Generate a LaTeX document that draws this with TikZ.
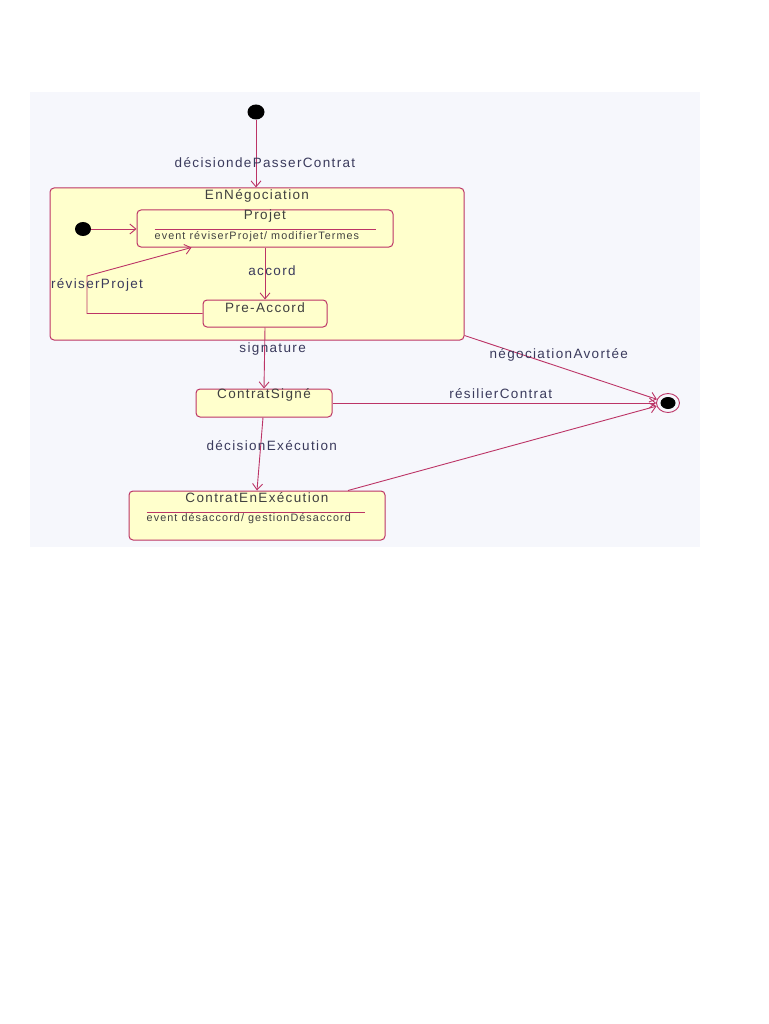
\documentclass[tikz,border=0pt]{standalone}
\usepackage{fontspec}
\setmainfont{Liberation Sans}[LetterSpace=10]
\usepackage{tikz}
\usetikzlibrary{calc,arrows.meta,shapes.geometric}

\definecolor{trait}{HTML}{BC3466}
\definecolor{fond}{HTML}{F6F7FC}
\definecolor{jaune}{HTML}{FFFFCC}
\definecolor{texte}{HTML}{3A3A5C}

\tikzset{
  etatbox/.style={draw=trait, fill=jaune, rounded corners=4pt, line width=1pt, inner sep=0pt},
  debut/.style={ellipse, fill=black, inner sep=0pt, minimum width=17pt, minimum height=15pt},
  trans/.style={draw=trait, line width=0.9pt, -{Straight Barb[length=6pt,width=10pt]}},
  nom/.style={text=black!75, font=\fontsize{13.5}{15}\selectfont, inner sep=0pt},
  evt/.style={text=black!75, font=\fontsize{10.8}{12}\selectfont, inner sep=0pt},
  lbl/.style={text=texte, font=\fontsize{13.5}{15}\selectfont, inner sep=0pt}
}

\begin{document}
\begin{tikzpicture}[x=1pt, y=-1pt]
\pgfmathsetmacro{\w}{256} % largeur Projet / ContratEnExecution
\pgfmathsetmacro{\d}{18} % retrait des lignes de separation
\useasboundingbox (0,0) rectangle (768,1024);
\fill[fond] (30,92) rectangle (700,547);

% etat composite
\node[etatbox, minimum width=414pt, minimum height=152pt] (neg) at (257,264) {};
\node[nom] (negnom) at (257,196) {EnNégociation};
\node[debut] (debut) at (256,112) {};
\node[debut, minimum width=16pt, minimum height=14pt] (debut2) at (83,229) {};

\node[etatbox, minimum width=\w pt, minimum height=37pt] (projet) at (265,228.5) {};
\node[nom] (projetnom) at (265,216) {Projet};
\draw[trait, line width=0.8pt] ($(projet.west)+(\d,0.5)$) -- ($(projet.east)+(-\d,0.5)$);
\node[evt, anchor=west] (projetevt) at ($(projet.west)+(\d,8.5)$) {event réviserProjet/ modifierTermes};

\node[etatbox, minimum width=124pt, minimum height=27pt] (preaccord) at (265,313.5) {};
\node[nom] (preaccordnom) at (265,308) {Pre-Accord};

% etats du contrat
\node[etatbox, minimum width=136pt, minimum height=28pt] (signe) at (264,403) {};
\node[nom] (signenom) at (264,395) {ContratSigné};

\node[etatbox, minimum width=\w pt, minimum height=49pt] (exec) at (257,515.5) {};
\node[nom] (execnom) at (257,498) {ContratEnExécution};
\draw[trait, line width=0.8pt] ($(exec.west)+(\d,-3.5)$) -- ($(exec.east)+(-\d-3,-3.5)$);
\node[evt, anchor=west] (execevt) at ($(exec.west)+(\d,3.5)$) {event désaccord/ gestionDésaccord};

\node[ellipse, draw=trait, line width=0.9pt, minimum width=23pt, minimum height=19pt, inner sep=0pt] (fin) at (668,403) {};
\node[ellipse, fill=black, minimum width=15pt, minimum height=12pt, inner sep=0pt] (finpt) at (fin) {};

% transitions
\draw[trans] (debut) -- node[lbl, pos=.64, xshift=9pt]{décisiondePasserContrat} (debut |- neg.north);
\draw[trans] (debut2) -- (debut2 -| projet.west);
\draw[trans] (projet.south) -- node[lbl, pos=.45, xshift=7pt]{accord} (preaccord.north);
\draw[trans] (preaccord.west) -| (87,276) node[lbl, xshift=10pt, yshift=-9pt]{réviserProjet} -- ($(projet.south west)+(55,0)$);
\draw[trans] (preaccord.south) -- node[lbl, pos=.35, xshift=8pt]{signature} (signe.north);
\draw[trans] ($(neg.south east)+(0,-5)$) -- node[lbl, pos=.49, yshift=12pt]{négociationAvortée} (fin);
\draw[trans] (signe.east) -- node[lbl, pos=.52, yshift=9pt]{résilierContrat} (fin);
\draw[trans] ($(signe.south)+(-1,0)$) -- node[lbl, pos=.38, xshift=11pt]{décisionExécution} (exec.north);
\draw[trans] ($(exec.north)+(91,0)$) -- (fin);
\end{tikzpicture}
\end{document}
